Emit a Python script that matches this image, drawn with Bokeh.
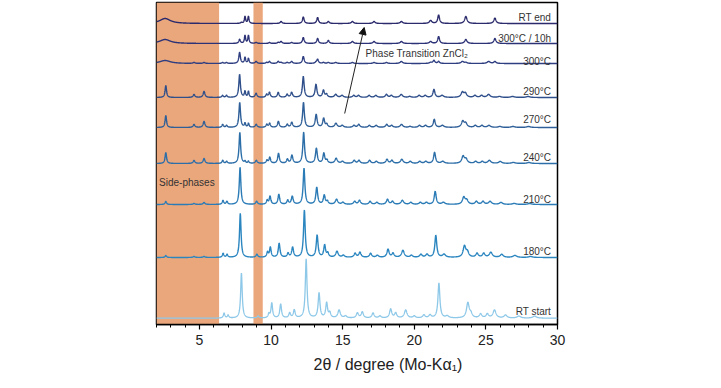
import numpy as np
from bokeh.plotting import figure
from bokeh.models import (Range1d, SingleIntervalTicker, BoxAnnotation, Label,
                          Arrow, NormalHead, ColumnDataSource, Title)
from bokeh.embed import file_html
from bokeh.resources import INLINE
from bokeh.core.properties import value

# ---------------- data ----------------
trace_names = ["RT start", "180°C", "210°C", "240°C", "270°C", "290°C",
               "300°C", "300°C / 10h", "RT end"]
baselines = [6.3, 67, 120, 161, 197, 227, 261, 281, 301]
label_y = [13.3, 73.3, 125, 167.3, 204.7, 233.3, 263, 285.7, 307.3]
peak_shift = [1.0, 0.99, 0.988, 0.986, 0.985, 0.984, 0.984, 0.984, 1.0]
colors = ["#8DC8E8", "#2B86C0", "#2A7BB6", "#2C6EA8", "#2E5F98",
          "#2F4F8B", "#2E3E80", "#2C3276", "#2A2A6C"]

# main phase reflections (2theta at RT) and widths
main_pos = [6.72, 7.0, 7.93, 9.1, 9.85, 10.05, 10.67, 11.3, 11.62, 12.45,
            13.35, 13.88, 14.1, 14.75, 15.2, 16.03, 16.37, 17.12, 17.6, 18.35,
            18.7, 19.4, 20.0, 20.67, 21.1, 21.72, 22.3, 23.74, 23.95, 24.63,
            25.1, 25.6, 26.37, 27.3, 28.4]
main_fwhm = [0.12, 0.12, 0.13, 0.15, 0.13, 0.13, 0.14, 0.14, 0.15, 0.14,
             0.15, 0.15, 0.15, 0.2, 0.2, 0.18, 0.18, 0.18, 0.2, 0.18,
             0.18, 0.22, 0.2, 0.2, 0.2, 0.16, 0.25, 0.22, 0.22, 0.2,
             0.2, 0.25, 0.25, 0.3, 0.3]
main_heights = [
    [5, 3, 45, 2, 4, 15, 14, 5, 8, 59, 25, 15, 5, 8, 2, 5, 6, 5, 2, 9, 5, 8, 2, 3, 3, 35, 2, 15, 4, 4, 4, 8, 3, 2, 2],
    [4, 3, 44, 3, 5, 10, 14, 4, 10, 47, 22, 12, 4, 6, 2, 4, 5, 4, 2, 8, 4, 7, 2, 3, 3, 22, 3, 11, 5, 4, 4, 5, 3, 2, 1],
    [4, 3, 37, 3, 4, 8, 10, 4, 8, 36, 17, 9, 3, 5, 2, 3, 4, 3, 2, 5, 3, 4, 2, 2, 2, 13, 2, 7, 4, 3, 3, 3, 2, 1, 1],
    [3, 2, 31, 3, 3, 6, 10, 4, 8, 31, 15, 10, 3, 5, 2, 3, 3, 3, 2, 4, 3, 4, 2, 2, 2, 11, 2, 7, 4, 2, 2, 3, 2, 1, 1],
    [3, 2, 25, 3, 3, 4, 6, 3, 5, 25, 13, 9, 3, 4, 2, 2, 3, 2, 2, 3, 2, 3, 1, 2, 2, 8, 2, 6, 4, 2, 2, 2, 1, 1, 1],
    [2, 2, 23, 4, 3, 5, 5, 3, 5, 21, 13, 7, 3, 3, 2, 2, 2, 2, 2, 3, 2, 3, 1, 2, 2, 8, 2, 5, 4, 2, 2, 3, 1, 1, 1],
    [1, 1, 11, 2, 1, 2, 2, 1, 2, 2, 1, 1, 0, 1, 0, 0, 0, 0, 0, 1, 0, 1, 0, 0, 0, 3, 0, 2, 0, 0, 0, 2, 0, 0, 0],
    [0, 0, 4, 1, 0, 1, 1, 0, 1, 1, 0, 0, 0, 0, 0, 0, 0, 0, 0, 0, 0, 0, 0, 0, 0, 0, 0, 0, 0, 0, 0, 0, 0, 0, 0],
    [0, 0, 1, 0, 0, 0, 0, 0, 0, 0, 0, 0, 0, 0, 0, 0, 0, 0, 0, 0, 0, 0, 0, 0, 0, 0, 0, 0, 0, 0, 0, 0, 0, 0, 0],
]

# side phase / ZnCl2 reflections (fixed positions)
side_pos = [2.6, 2.65, 4.62, 5.32, 8.18, 8.42, 10.7, 12.25, 13.25, 14.0,
            15.68, 17.19, 19.1, 21.14, 21.7, 23.6, 25.63]
side_fwhm = [0.9, 0.12, 0.15, 0.15, 0.1, 0.1, 0.15, 0.14, 0.14, 0.15,
             0.18, 0.18, 0.2, 0.2, 0.15, 0.2, 0.18]
side_heights = [
    [0, 0, 0, 0, 0, 0, 0, 0, 0, 0, 0, 0, 0, 0, 0, 0, 0],
    [0, 2, 1, 1, 0, 0, 0, 0, 0, 0, 0, 0, 0, 0, 0, 0, 0],
    [0, 3, 1, 2, 0, 0, 0, 0, 0, 0, 0, 0, 0, 0, 0, 0, 0],
    [0, 11, 3, 5, 2, 2, 0, 0, 0, 0, 0, 0, 0, 0, 0, 0, 0],
    [0, 12, 3, 6, 4, 4, 0, 0, 0, 0, 0, 0, 0, 0, 0, 0, 0],
    [0, 12, 3, 6, 6, 6, 0, 0, 0, 0, 0, 0, 0, 0, 0, 0, 0],
    [3, 0, 1, 1, 6, 5, 1, 5, 4, 1, 1, 1, 1, 1, 2, 1, 2],
    [4, 0, 0, 0, 8, 8, 2, 5, 5, 3, 2, 2, 2, 2, 7, 4, 5],
    [5, 0, 0, 0, 7, 7, 2, 6.5, 6, 2, 2, 2, 2, 3, 8.5, 7, 5.4],
]

band_left = [2.0, 8.77]
band_right = [6.37, 9.42]

side_text = "Side-phases"
side_text_pos = (2.18, 142.3)
transition_text = "Phase Transition ZnCl₂"
transition_text_pos = (16.6, 271.3)
arrow_start = (15.14, 211)
arrow_end = (16.5, 297)

x_ticks_interval = 5
x_title = "2θ / degree (Mo-Kα₁)"

# ---------------- figure ----------------
p = figure(width=715, height=384, x_range=Range1d(2, 30), y_range=Range1d(0, 322),
           output_backend="svg", toolbar_location=None,
           min_border_left=156, min_border_right=158, min_border_top=2,
           min_border_bottom=60)
p.background_fill_color = "white"
p.border_fill_color = "white"
p.outline_line_color = "black"
p.outline_line_width = 1.5
p.grid.visible = False
p.yaxis.visible = False

for l, r in zip(band_left, band_right):
    p.add_layout(BoxAnnotation(left=l, right=r, fill_color="#EBA77C",
                               fill_alpha=1.0, line_alpha=0, level="underlay"))

x = np.linspace(2, 30, 2801)
for i, name in enumerate(trace_names):
    y = np.full_like(x, baselines[i], dtype=float)
    for pos, w, h in zip(main_pos, main_fwhm, main_heights[i]):
        if h:
            y += h / (1 + ((x - pos * peak_shift[i]) / (w / 2)) ** 2)
    for pos, w, h in zip(side_pos, side_fwhm, side_heights[i]):
        if h:
            y += h / (1 + ((x - pos) / (w / 2)) ** 2)
    p.line(x, y, line_color=colors[i], line_width=1.4 if i else 1.3)

src = ColumnDataSource(dict(x=[29.55] * len(trace_names), y=label_y, t=trace_names))
p.text(x="x", y="y", text="t", source=src, text_align="right", text_baseline="middle",
       text_font=value("Liberation Sans"), text_font_size="10px", text_color="#333333")

p.add_layout(Label(x=side_text_pos[0], y=side_text_pos[1], text=side_text,
                   text_baseline="middle", text_font="Liberation Sans",
                   text_font_size="10px", text_color="#333333"))
p.add_layout(Label(x=transition_text_pos[0], y=transition_text_pos[1], text=transition_text,
                   text_baseline="middle", text_font="Liberation Sans",
                   text_font_size="10px", text_color="#333333"))
p.add_layout(Arrow(end=NormalHead(size=7, fill_color="#111111", line_color="#111111"),
                   x_start=arrow_start[0], y_start=arrow_start[1],
                   x_end=arrow_end[0], y_end=arrow_end[1],
                   line_color="#222222", line_width=1))

ax = p.xaxis[0]
ax.ticker = SingleIntervalTicker(interval=x_ticks_interval, num_minor_ticks=5)
ax.axis_line_width = 1.5
ax.major_tick_in = 0
ax.major_tick_out = 5
ax.minor_tick_in = 0
ax.minor_tick_out = 3
ax.major_tick_line_width = 1.2
ax.minor_tick_line_width = 1.0
ax.major_label_standoff = 5
ax.major_label_text_font = "Liberation Sans"
ax.major_label_text_font_size = "14px"
ax.major_label_text_color = "#222222"

p.add_layout(Title(text=x_title, align="left", offset=157, standoff=12,
                   text_font="Liberation Sans", text_font_style="normal",
                   text_font_size="16px", text_color="#222222"), "below")

open("out.html", "w").write(file_html(p, INLINE))
